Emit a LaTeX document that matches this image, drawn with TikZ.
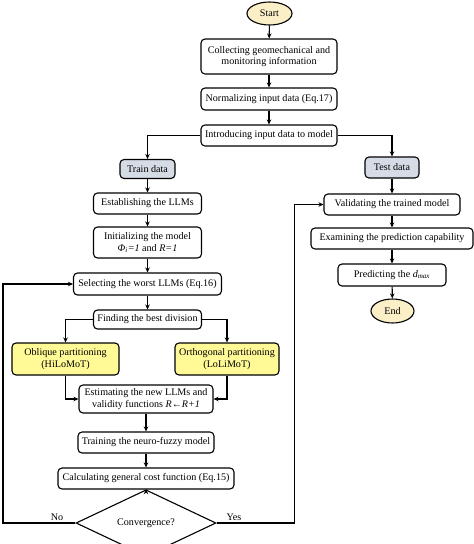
\documentclass[tikz,border=0pt]{standalone}
\usepackage{fontspec}
\setmainfont{Liberation Serif}
\usetikzlibrary{shapes.geometric,arrows.meta}
\definecolor{cream}{HTML}{FBEFC8}
\definecolor{bluegrey}{HTML}{D6DCE5}
\definecolor{yellowc}{HTML}{FFFA96}
\begin{document}
\begin{tikzpicture}[x=1pt,y=-1pt,
  box/.style={draw, rounded corners=4pt, line width=1.1pt, fill=white, align=center, inner sep=0pt, font=\fontsize{10.1}{11.8}\selectfont},
  term/.style={ellipse, draw, line width=1.1pt, fill=cream, inner sep=0pt, font=\fontsize{10.1}{11.8}\selectfont},
  arr/.style={-{Stealth[length=5pt,width=4.5pt]}, line width=1.1pt},
  lbl/.style={inner sep=0pt, font=\fontsize{10.1}{11.8}\selectfont}]
\useasboundingbox (0,0) rectangle (474,544);
% left/main column
\node[term, minimum width=45pt, minimum height=23pt] (start) at (269.5,13.5) {Start};
\node[box, minimum width=136pt, minimum height=35pt] (collect) at (269,56.5) {Collecting geomechanical and\\monitoring information};
\node[box, minimum width=136pt, minimum height=22pt] (norm) at (269,99) {Normalizing input data (Eq.17)};
\node[box, minimum width=136pt, minimum height=21pt] (intro) at (269,135.5) {Introducing input data to model};
\node[box, fill=bluegrey, minimum width=55pt, minimum height=19pt] (train) at (147.5,169) {Train data};
\node[box, fill=bluegrey, minimum width=54pt, minimum height=21pt] (test) at (392,167.5) {Test data};
\node[box, minimum width=108pt, minimum height=21pt] (estab) at (147.5,203.5) {Establishing the LLMs};
\node[box, minimum width=108pt, minimum height=31pt] (init) at (147.5,242.5) {Initializing the model\\\textit{Φ\textsubscript{i}=1} and \textit{R=1}};
\node[box, minimum width=148pt, minimum height=22pt] (select) at (147.5,284) {Selecting the worst LLMs (Eq.16)};
\node[box, minimum width=108pt, minimum height=19pt] (find) at (147.5,319.5) {Finding the best division};
\node[box, fill=yellowc, minimum width=107pt, minimum height=32pt] (obl) at (65.5,359) {Oblique partitioning\\(HiLoMoT)};
\node[box, fill=yellowc, minimum width=104pt, minimum height=32pt] (orth) at (227,359) {Orthogonal partitioning\\(LoLiMoT)};
\node[box, minimum width=134pt, minimum height=28pt] (est) at (146,399) {Estimating the new LLMs and\\validity functions \textit{R}←\textit{R+1}};
\node[box, minimum width=136pt, minimum height=21pt] (trainnf) at (146,442.5) {Training the neuro-fuzzy model};
\node[box, minimum width=176pt, minimum height=21pt] (calc) at (146,478.5) {Calculating general cost function (Eq.15)};
\node[diamond, draw, line width=1.1pt, fill=white, inner sep=0pt, minimum width=140pt, minimum height=42pt, font=\fontsize{10.1}{11.8}\selectfont] (conv) at (146,523) {Convergence?};
% right column
\node[box, minimum width=136pt, minimum height=21pt] (valid) at (392,204.5) {Validating the trained model};
\node[box, minimum width=162pt, minimum height=21pt] (exam) at (392,238.5) {Examining the prediction capability};
\node[box, minimum width=108pt, minimum height=22pt] (pred) at (392,275) {Predicting the \textit{d}\textsubscript{\textit{max}}};
\node[term, minimum width=43pt, minimum height=24pt] (end) at (392.5,311) {End};
% labels
\node[lbl] (no) at (57,517) {No};
\node[lbl] (yes) at (234,517) {Yes};
% connectors
\draw[arr] (start) -- (collect);
\draw[arr] (collect) -- (norm);
\draw[arr] (norm) -- (intro);
\draw[arr] (intro.west) -| (train.north);
\draw[arr] (intro.east) -| (test.north);
\draw[arr] (train) -- (estab);
\draw[arr] (estab) -- (init);
\draw[arr] (init) -- (select);
\draw[arr] (select) -- (find);
\draw[arr] (find.west) -| (obl.north);
\draw[arr] (find.east) -| (orth.north);
\draw[arr] (obl.south) |- (est.west);
\draw[arr] (orth.south) |- (est.east);
\draw[arr] (est) -- (trainnf);
\draw[arr] (trainnf) -- (calc);
\draw[arr] (calc) -- (conv);
\coordinate (lft) at (3,523);
\coordinate (rgt) at (294.5,523);
\draw[arr] (conv.west) -- (lft) |- (select.west);
\draw[arr] (conv.east) -- (rgt) |- (valid.west);
\draw[arr] (test) -- (valid);
\draw[arr] (valid) -- (exam);
\draw[arr] (exam) -- (pred);
\draw[arr] (pred) -- (end);
\end{tikzpicture}
\end{document}
